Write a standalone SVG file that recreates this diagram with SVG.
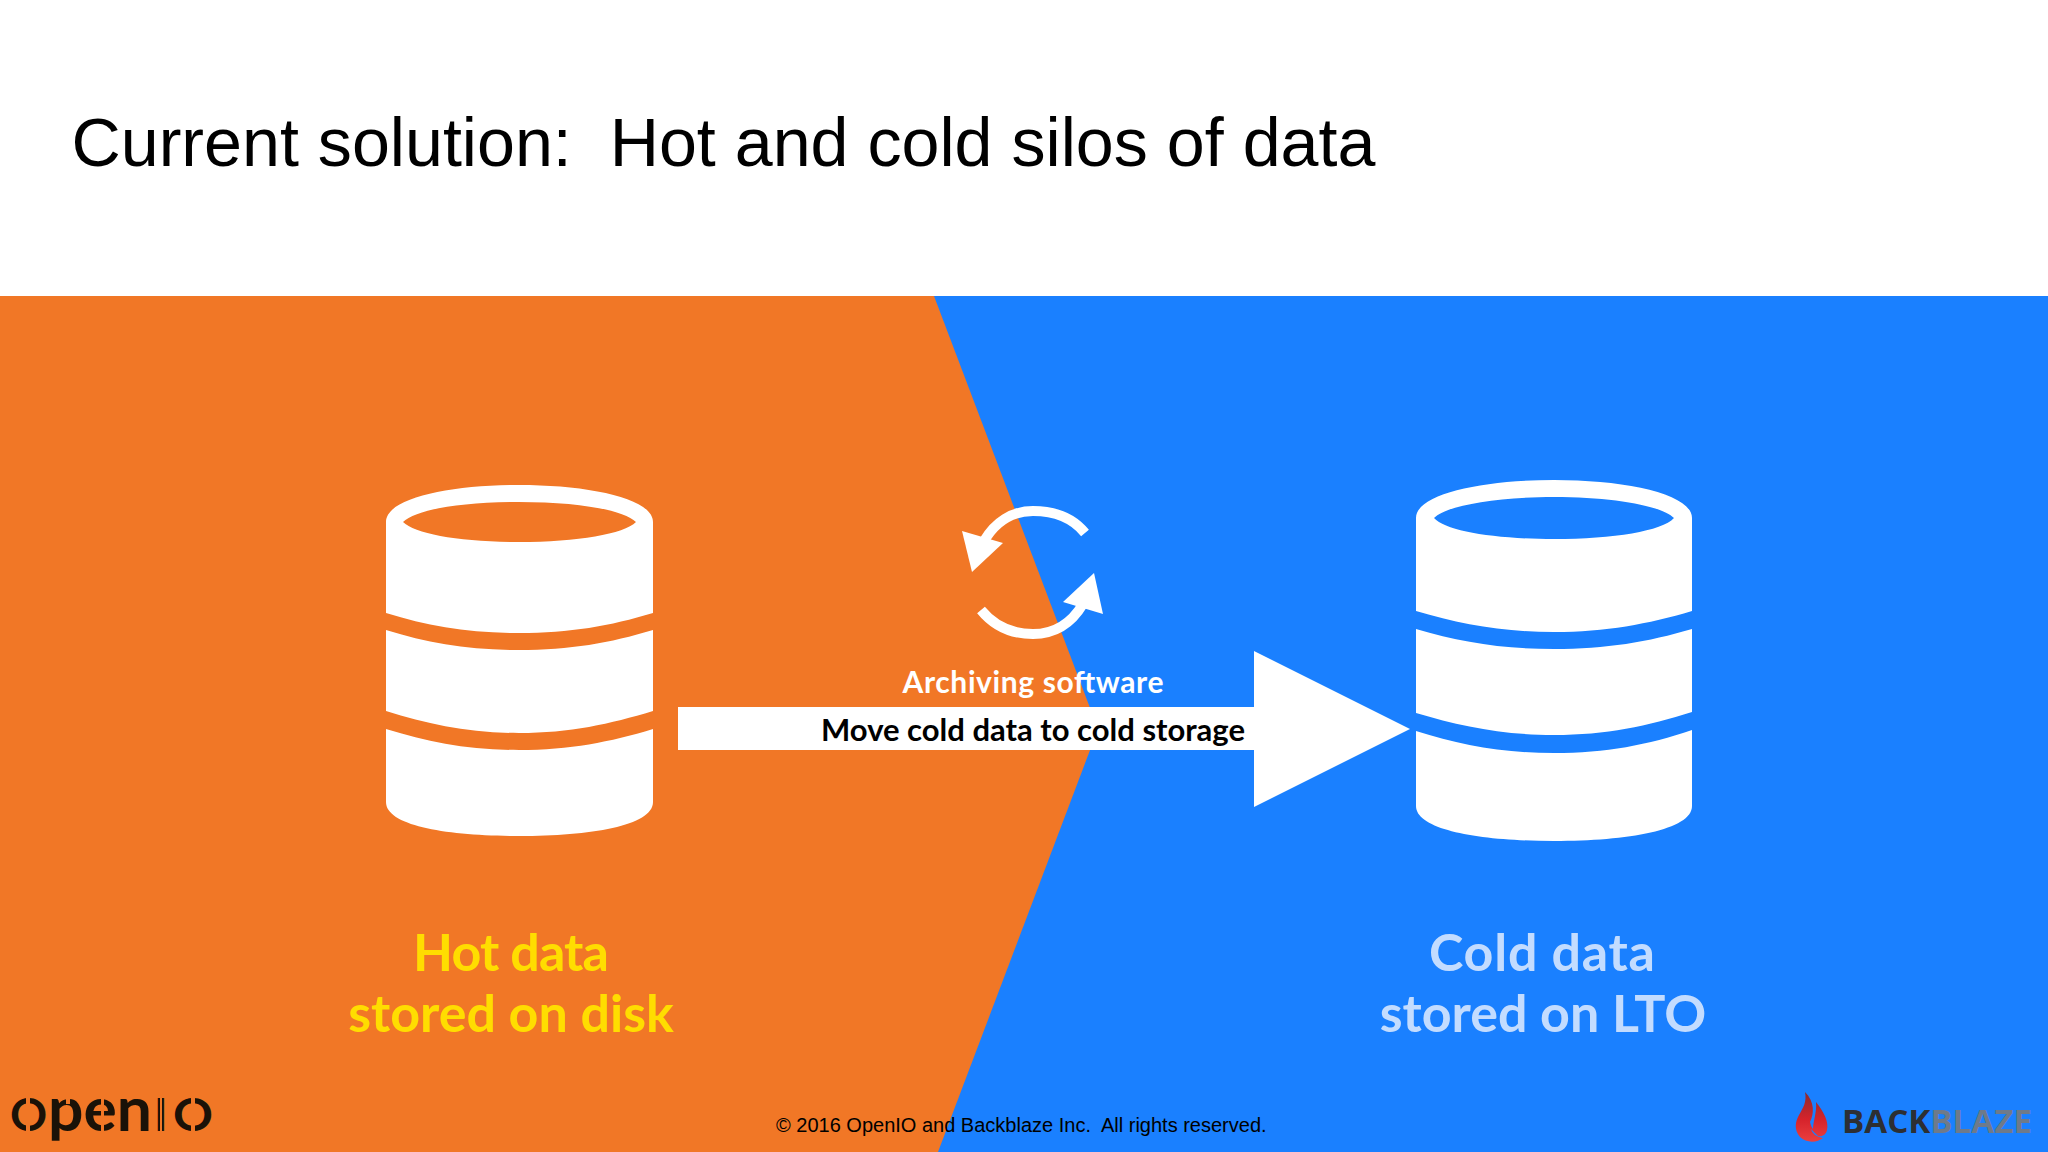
<svg xmlns="http://www.w3.org/2000/svg" width="2048" height="1152" viewBox="0 0 2048 1152">
<style>
.h{font-family:"Lato","Open Sans",sans-serif;font-weight:700;text-anchor:middle}
.a{font-family:"Liberation Sans",Arial,sans-serif;white-space:pre}
.big{font-size:52px}
.w{fill:#fff}
.gap{fill:#f17726}
</style>
<defs>
<linearGradient id="fl" x1="0" y1="0" x2="0" y2="1"><stop offset="0" stop-color="#8a2b2e"/><stop offset="0.55" stop-color="#d6232b"/><stop offset="1" stop-color="#ea3f3f"/></linearGradient>
</defs>
<rect width="2048" height="1152" fill="#fff"/>
<rect y="296" width="2048" height="856" fill="#1a80ff"/>
<polygon points="0,296 934,296 1098,729 938,1152 0,1152" fill="#f17726"/>
<text id="title" class="a" x="71.5" y="166" font-size="68.2" fill="#000">Current solution:  Hot and cold silos of data</text>

<g id="hot-db">
<path class="w" fill-rule="evenodd" d="M386,522C386,498 450,485 519,485C588,485 653,498 653,522V613C610,626 570,633 519,633C468,633 428,626 386,613ZM403,522C415,534 460,542 519,542C578,542 624,534 636,522C624,510 578,502 519,502C460,502 415,510 403,522Z"/>
<path class="w" d="M386,630C428,643 468,650 519,650C570,650 610,643 653,630V711C610,724 570,733 519,733C468,733 428,724 386,711Z"/>
<path class="w" d="M386,729C428,742 468,750 519,750C570,750 610,742 653,729V802C653,826 590,836 519,836C448,836 386,826 386,802Z"/>
</g>
<g id="cold-db">
<path class="w" fill-rule="evenodd" d="M1416,518C1416,494 1482,480 1554,480C1626,480 1692,494 1692,518V611C1648,624 1606,632 1554,632C1502,632 1460,624 1416,611ZM1434,518C1446,531 1494,539 1554,539C1614,539 1662,531 1674,518C1662,506 1614,497 1554,497C1494,497 1446,506 1434,518Z"/>
<path class="w" d="M1416,629C1460,642 1502,649 1554,649C1606,649 1648,642 1692,629V712C1648,726 1606,735 1554,735C1502,735 1460,726 1416,713Z"/>
<path class="w" d="M1416,731C1460,745 1502,753 1554,753C1606,753 1648,745 1692,730V806C1692,830 1628,841 1554,841C1480,841 1416,830 1416,806Z"/>
</g>
<g id="connectors">
<polygon id="main-arrow" class="w" points="678,707 1254,707 1254,651 1410,729 1254,807 1254,750 678,750"/>
<g id="cycle" fill="none" stroke="#fff" stroke-width="10">
<path d="M1085,533C1072,517 1054,511 1033,511C1012,511 995,522 984,541"/>
<path d="M981,610C994,626 1012,634 1033,634C1054,634 1071,624 1083,604"/>
</g>
<polygon class="w" points="962,531 1003,543 972,572"/>
<polygon class="w" points="1094,573 1103,614 1063,602"/>
</g>
<g id="labels">
<text class="h w" x="1033" y="693" font-size="30" textLength="261">Archiving software</text>
<text class="h" x="1033" y="741" font-size="31" fill="#000">Move cold data to cold storage</text>
<text class="h big" x="511" y="971" fill="#ffdd00" textLength="196">Hot data</text>
<text class="h big" x="511" y="1032" fill="#ffdd00">stored on disk</text>
<text class="h big" x="1542" y="971" fill="#c3dcff" textLength="226">Cold data</text>
<text class="h big" x="1543" y="1032" fill="#c3dcff">stored on LTO</text>
</g>
<text id="copyright" class="a" x="776" y="1132" font-size="20" fill="#000">© 2016 OpenIO and Backblaze Inc.  All rights reserved.</text>
<g id="openio-logo">
<text y="1131" font-family="Lato,sans-serif" font-weight="700" fill="#1a1208" font-size="46"><tspan x="10">O</tspan><tspan x="48" font-size="62" textLength="104" lengthAdjust="spacingAndGlyphs">pen</tspan><tspan x="154">I</tspan><tspan x="173" textLength="40" lengthAdjust="spacingAndGlyphs">O</tspan></text>
<rect class="gap" x="26" y="1094" width="4" height="42"/>
<rect class="gap" x="66" y="1094" width="4" height="10"/>
<rect class="gap" x="101" y="1094" width="3" height="42"/>
<rect class="gap" x="160" y="1094" width="2" height="40"/>
<rect class="gap" x="191" y="1094" width="4" height="42"/>
</g>
<g id="backblaze-logo">
<path fill="url(#fl)" d="M1805,1092C1815,1102 1814,1114 1810,1122C1811,1126 1812,1128 1813,1129C1813,1122 1817,1112 1816,1102C1824,1112 1829,1122 1827,1130C1826,1135 1822,1137 1818,1136C1815,1133 1813,1131 1811,1129C1812,1133 1816,1137 1823,1138C1817,1143 1806,1143 1800,1137C1794,1130 1795,1122 1799,1115C1803,1108 1807,1102 1805,1092Z"/>
<text x="1842" y="1133" font-family="'Open Sans',sans-serif" font-size="33" font-weight="700" textLength="190" lengthAdjust="spacingAndGlyphs"><tspan fill="#2d2f33">BACK</tspan><tspan fill="#6e7a8a">BLAZE</tspan></text>
</g>
</svg>
